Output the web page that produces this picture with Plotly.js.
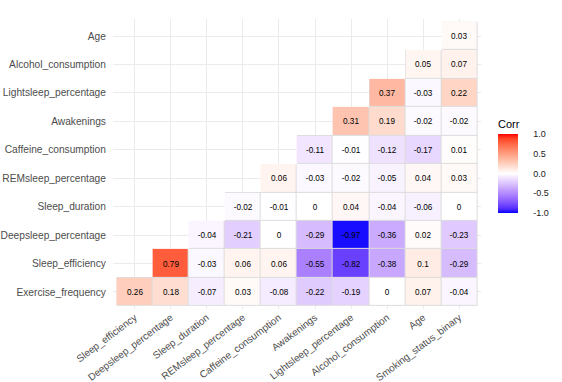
<!DOCTYPE html>
<html>
<head>
<meta charset="utf-8">
<script src="https://cdn.plot.ly/plotly-3.0.1.min.js"></script>
<style>html,body{margin:0;padding:0;background:#fff;overflow:hidden;}#chart{width:562px;height:382px;}</style>
</head>
<body>
<div id="chart"></div>
<script>
// Column categories (x axis, left to right)
const xCategories = ["Sleep_efficiency","Deepsleep_percentage","Sleep_duration","REMsleep_percentage","Caffeine_consumption","Awakenings","Lightsleep_percentage","Alcohol_consumption","Age","Smoking_status_binary"];
// Row categories (y axis, bottom to top)
const yCategories = ["Exercise_frequency","Sleep_efficiency","Deepsleep_percentage","Sleep_duration","REMsleep_percentage","Caffeine_consumption","Awakenings","Lightsleep_percentage","Alcohol_consumption","Age"];

// Correlation values per row (null = empty cell), columns in xCategories order
const rowExercise   = [0.26, 0.18, -0.07, 0.03, -0.08, -0.22, -0.19, 0, 0.07, -0.04];
const rowSleepEff   = [null, 0.79, -0.03, 0.06, 0.06, -0.55, -0.82, -0.38, 0.1, -0.29];
const rowDeepsleep  = [null, null, -0.04, -0.21, 0, -0.29, -0.97, -0.36, 0.02, -0.23];
const rowSleepDur   = [null, null, null, -0.02, -0.01, 0, 0.04, -0.04, -0.06, 0];
const rowREMsleep   = [null, null, null, null, 0.06, -0.03, -0.02, -0.05, 0.04, 0.03];
const rowCaffeine   = [null, null, null, null, null, -0.11, -0.01, -0.12, -0.17, 0.01];
const rowAwakenings = [null, null, null, null, null, null, 0.31, 0.19, -0.02, -0.02];
const rowLightsleep = [null, null, null, null, null, null, null, 0.37, -0.03, 0.22];
const rowAlcohol    = [null, null, null, null, null, null, null, null, 0.05, 0.07];
const rowAge        = [null, null, null, null, null, null, null, null, null, 0.03];

const colorbarTickVals = [-1, -0.5, 0, 0.5, 1];
const colorbarTickText = ["-1.0", "-0.5", "0.0", "0.5", "1.0"];

const zRows = [rowExercise, rowSleepEff, rowDeepsleep, rowSleepDur, rowREMsleep, rowCaffeine, rowAwakenings, rowLightsleep, rowAlcohol, rowAge];

// --- Lab interpolation (like ggplot2 scale_fill_gradient2) ---
function hexToRgb(h){h=h.replace('#','');return [0,2,4].map(i=>parseInt(h.substr(i,2),16)/255);}
function lin(c){return c<=0.04045?c/12.92:Math.pow((c+0.055)/1.055,2.4);}
function delin(c){return c<=0.0031308?12.92*c:1.055*Math.pow(c,1/2.4)-0.055;}
function rgbToLab(rgb){
  const [r,g,b]=rgb.map(lin);
  let X=(0.4124*r+0.3576*g+0.1805*b)/0.95047, Y=(0.2126*r+0.7152*g+0.0722*b), Z=(0.0193*r+0.1192*g+0.9505*b)/1.08883;
  const f=t=>t>0.008856?Math.cbrt(t):7.787*t+16/116;
  const fx=f(X),fy=f(Y),fz=f(Z);
  return [116*fy-16,500*(fx-fy),200*(fy-fz)];
}
function labToHex(lab){
  const [L,a,b]=lab;
  const fy=(L+16)/116, fx=fy+a/500, fz=fy-b/200;
  const fi=t=>{const t3=t*t*t;return t3>0.008856?t3:(t-16/116)/7.787;};
  const X=fi(fx)*0.95047, Y=fi(fy), Z=fi(fz)*1.08883;
  let r=3.2406*X-1.5372*Y-0.4986*Z, g=-0.9689*X+1.8758*Y+0.0415*Z, bb=0.0557*X-0.2040*Y+1.0570*Z;
  return '#'+[r,g,bb].map(c=>{c=Math.min(1,Math.max(0,delin(c)));return Math.round(c*255).toString(16).padStart(2,'0');}).join('');
}
function mix(c1,c2,t){const a=rgbToLab(hexToRgb(c1)),b=rgbToLab(hexToRgb(c2));return labToHex(a.map((v,i)=>v+(b[i]-v)*t));}
const colorscale=[];
const N=20;
for(let k=0;k<=N;k++){
  const v=-1+2*k/N;
  const col = v<0 ? mix('#FFFFFF','#0000FF',-v) : mix('#FFFFFF','#FF0000',v);
  colorscale.push([k/N,col]);
}

const textRows = zRows.map(r=>r.map(v=>v===null?'':String(v)));
const borderRows = zRows.map(r=>r.map(v=>v===null?null:1));

const FONT = 'Liberation Sans, Arial, sans-serif';
const borderTrace = {
  type:'heatmap', x:xCategories, y:yCategories, z:borderRows,
  colorscale:[[0,'#dcdcdc'],[1,'#dcdcdc']], showscale:false, hoverinfo:'skip'
};
const heat = {
  type:'heatmap', x:xCategories, y:yCategories, z:zRows,
  zmin:-1, zmax:1, colorscale:colorscale, xgap:1, ygap:1,
  text:textRows, texttemplate:'%{text}',
  textfont:{family:FONT, size:8.2, color:'#000000'},
  colorbar:{
    title:{text:'Corr', side:'top', font:{family:FONT, size:11, color:'#000000'}},
    x:(498-113)/368, xanchor:'left', xpad:0, ypad:0,
    y:(309-165)/290, yanchor:'middle', lenmode:'pixels', len:96, thickness:20, thicknessmode:'pixels',
    outlinewidth:0, tickvals:colorbarTickVals, ticktext:colorbarTickText,
    ticks:'outside', ticklen:14, tickcolor:'rgba(0,0,0,0)',
    tickfont:{family:FONT, size:9, color:'#1a1a1a'}
  }
};

const xAxisFont = {family:FONT, size:10, color:'#4d4d4d'};
const yAxisFont = {family:FONT, size:10.2, color:'#4d4d4d'};
const layout = {
  width:562, height:382,
  margin:{l:113, r:81, t:19, b:73, pad:0},
  paper_bgcolor:'#ffffff', plot_bgcolor:'#ffffff',
  showlegend:false,
  xaxis:{type:'category', categoryorder:'array', categoryarray:xCategories, range:[-0.6,9.6],
    showgrid:true, gridcolor:'#ebebeb', gridwidth:1, zeroline:false, showline:false, automargin:false,
    ticks:'', tickangle:-37, tickfont:xAxisFont, fixedrange:true},
  yaxis:{type:'category', categoryorder:'array', categoryarray:yCategories, range:[-0.6,9.6],
    showgrid:true, gridcolor:'#ebebeb', gridwidth:1, zeroline:false, showline:false, automargin:false,
    ticks:'outside', ticklen:4, tickcolor:'rgba(0,0,0,0)', tickfont:yAxisFont, fixedrange:true}
};

Plotly.newPlot('chart',[borderTrace, heat],layout,{displayModeBar:false, staticPlot:true});
</script>
</body>
</html>
